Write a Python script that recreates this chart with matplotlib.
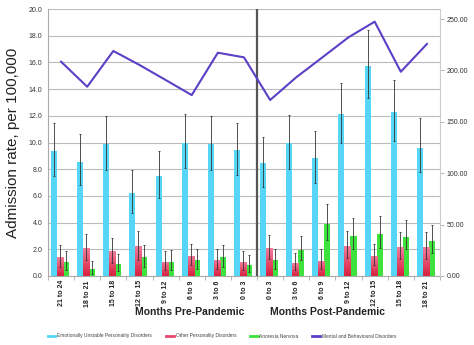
import matplotlib
matplotlib.use("Agg")
import matplotlib.pyplot as plt
from matplotlib.lines import Line2D
from matplotlib.colors import LinearSegmentedColormap
import numpy as np

plt.rcParams['font.family'] = ['Liberation Sans', 'DejaVu Sans']

categories = ["21 to 24", "18 to 21", "15 to 18", "12 to 15", "9 to 12", "6 to 9", "3 to 6", "0 to 3",
              "0 to 3", "3 to 6", "6 to 9", "9 to 12", "12 to 15", "15 to 18", "18 to 21"]

eupd = [9.36, 8.56, 9.86, 6.24, 7.51, 9.99, 9.86, 9.41, 8.44, 9.94, 8.86, 12.13, 15.73, 12.3, 9.6]
eupd_lo = [7.51, 6.82, 7.94, 4.7, 5.82, 8.07, 7.94, 7.57, 6.69, 7.99, 6.99, 9.94, 13.3, 10.13, 7.77]
eupd_hi = [11.48, 10.6, 12.0, 7.94, 9.39, 12.13, 12.0, 11.48, 10.43, 12.06, 10.86, 14.48, 18.43, 14.68, 11.8]

other = [1.4, 2.07, 1.87, 2.27, 1.07, 1.5, 1.2, 1.02, 2.07, 0.95, 1.15, 2.25, 1.5, 2.15, 2.15]
other_lo = [0.7, 1.2, 1.0, 1.2, 0.45, 0.8, 0.55, 0.45, 1.25, 0.45, 0.5, 1.32, 0.8, 1.3, 1.3]
other_hi = [2.32, 3.12, 2.82, 3.39, 1.87, 2.4, 2.0, 1.87, 3.07, 1.7, 2.0, 3.37, 2.4, 3.27, 3.27]

anorexia = [1.07, 0.55, 0.87, 1.4, 1.07, 1.2, 1.4, 0.82, 1.2, 1.95, 3.87, 3.0, 3.12, 2.95, 2.65]
anorexia_lo = [0.45, 0.15, 0.35, 0.7, 0.45, 0.55, 0.7, 0.3, 0.55, 1.2, 2.7, 2.02, 2.12, 2.0, 1.75]
anorexia_hi = [1.87, 1.15, 1.62, 2.32, 1.92, 2.05, 2.32, 1.57, 2.02, 3.02, 5.37, 4.32, 4.49, 4.19, 3.82]

mbd = [208.5, 184.1, 218.9, 205.3, 190.7, 176.0, 217.2, 212.7, 171.2, 193.3, 212.7, 232.2, 247.4, 198.7, 225.7]

series_names = ["Emotionally Unstable Personality Disorders", "Other Personality Disorders",
                "Anorexia Nervosa", "Mental and Behavioural Disorders"]
colors = ["#55D6F6", "#E5486E", "#3DE23D", "#5B3FC6"]

fig = plt.figure(figsize=(4.74, 3.45), dpi=100)
ax = fig.add_axes([48/474, 1-276/345, 392/474, 267/345])
x = np.arange(len(categories))
w = 0.23
offs = [-0.27, -0.04, 0.19]
pink_cmap = LinearSegmentedColormap.from_list("pk", ["#D8203F", "#F27C9C"])
grad = np.linspace(0, 1, 64).reshape(-1, 1)
for k, (vals, lo, hi, c, o) in enumerate([(eupd, eupd_lo, eupd_hi, colors[0], offs[0]),
                           (other, other_lo, other_hi, colors[1], offs[1]),
                           (anorexia, anorexia_lo, anorexia_hi, colors[2], offs[2])]):
    v = np.array(vals)
    err = np.array([v - np.array(lo), np.array(hi) - v])
    bars = ax.bar(x + o, v, width=w, color=c, zorder=2)
    if k == 1:
        for b in bars:
            x0, y0 = b.get_x(), b.get_y()
            im = ax.imshow(grad, cmap=pink_cmap, aspect='auto', origin='lower',
                           extent=[x0, x0 + b.get_width(), y0, y0 + b.get_height()], zorder=2.1)
            im.set_clip_path(b)
    ax.errorbar(x + o, v, yerr=err, fmt='none', ecolor='#333333', elinewidth=0.6,
                capsize=1.0, capthick=0.6, zorder=3)

ax.set_xlim(-0.5, len(categories) - 0.5)
ax.set_ylim(0, 20)
ax.set_yticks(np.arange(0, 20.1, 2))
ax.set_yticklabels([f"{t:.1f}" for t in np.arange(0, 20.1, 2)], fontsize=5)
ax.yaxis.grid(True, color='#BBBBBB', linewidth=0.8, zorder=0)
ax.set_axisbelow(True)
ax.tick_params(axis='y', length=0, pad=4, labelcolor='#333333')
ax.set_xticks(x)
ax.set_xticklabels(categories, rotation=90, fontsize=5, fontweight='bold', color='#222222')
ax.set_xticks(np.arange(-0.5, len(categories)), minor=True)
ax.tick_params(axis='x', which='major', length=0, pad=3)
ax.tick_params(axis='x', which='minor', length=3, color='#AAAAAA', width=0.6)
for s in ['top', 'right']:
    ax.spines[s].set_visible(False)
ax.spines['left'].set_color('#AAAAAA')
ax.spines['bottom'].set_color('#AAAAAA')
ax.axvline(7.5, color='#555555', linewidth=1.6, zorder=4)
ax.set_ylabel("Admission rate, per 100,000", fontsize=11, color='#222222', labelpad=6)

ax2 = ax.twinx()
ax2.plot(x, mbd, color=colors[3], linewidth=1.5, zorder=5)
ax2.set_ylim(0, 20 * 267 / 257 * 250 / 20)
ax2.set_yticks(np.arange(0, 251, 50))
ax2.set_yticklabels([f"{t:.2f}" for t in np.arange(0, 251, 50)], fontsize=5, color='#333333')
ax2.tick_params(axis='y', length=3, color='#AAAAAA', width=0.6, pad=2)
for s in ['top', 'left', 'bottom']:
    ax2.spines[s].set_visible(False)
ax2.spines['right'].set_color('#CCCCCC')

fig.text(190/474, 1-312/345, "Months Pre-Pandemic", ha='center', va='center', fontsize=7.5, fontweight='bold', color='#222222')
fig.text(328/474, 1-312/345, "Months Post-Pandemic", ha='center', va='center', fontsize=7.5, fontweight='bold', color='#222222')

handles = [Line2D([0], [0], color=c, linewidth=2) for c in colors]
fig.legend(handles, series_names, loc='center', bbox_to_anchor=(222/474, 1-336/345), ncol=4,
           fontsize=3.5, frameon=False, handlelength=1.6, handletextpad=0.4, columnspacing=2.8,
           labelcolor='#444444')

fig.savefig("out.png", dpi=100)
